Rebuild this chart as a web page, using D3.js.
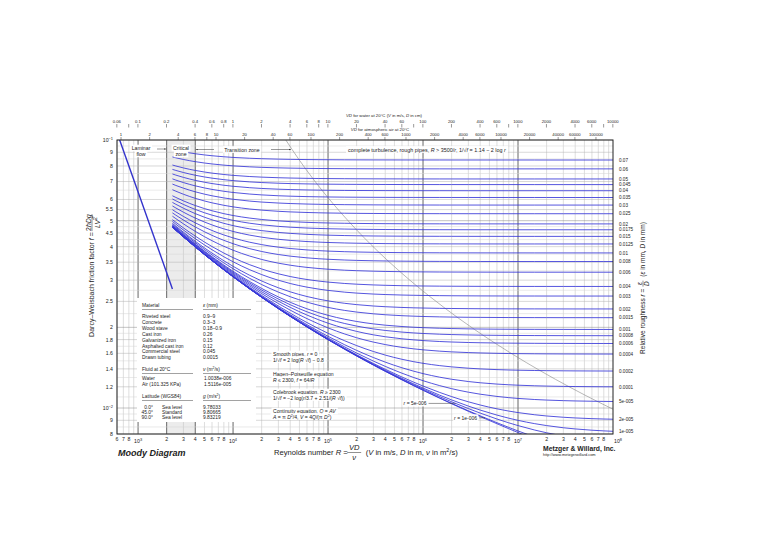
<!DOCTYPE html>
<html>
<head>
<meta charset="utf-8">
<script src="https://cdn.jsdelivr.net/npm/d3@7"></script>
<style>
  body { margin: 0; background: #fff; }
  svg text { font-family: "Liberation Sans", Arial, sans-serif; fill: #222; }
</style>
</head>
<body>
<div id="moody"></div>
<script>
// relative roughness r = eps/D, one Colebrook curve each (labels on the right)
const roughness = [0.07, 0.06, 0.05, 0.045, 0.04, 0.035, 0.03, 0.025, 0.02, 0.0175, 0.015, 0.0125,
  0.01, 0.008, 0.006, 0.004, 0.003, 0.002, 0.0015, 0.001, 0.0008, 0.0006, 0.0004, 0.0002, 0.0001,
  0.00005, 0.00002, 0.00001];
const roughnessLabels = ["0.07", "0.06", "0.05", "0.045", "0.04", "0.035", "0.03", "0.025", "0.02", "0.0175",
  "0.015", "0.0125", "0.01", "0.008", "0.006", "0.004", "0.003", "0.002", "0.0015", "0.001", "0.0008",
  "0.0006", "0.0004", "0.0002", "0.0001", "5e-005", "2e-005", "1e-005"];
// curves that run out through the bottom, two of them labelled inside the plot
const smoothCurves = [0.000005, 0.000001, 0];
const innerLabels = [["5e-006", 0.000005, 2.2e6], ["1e-006", 0.000001, 4.5e6]];
const innerLeaders = [27, 6];

// Reynolds numbers where the curves are evaluated
const reynolds = [2300, 2500, 3000, 3500, 4000, 5000, 6000, 8000, 1e4, 1.5e4, 2e4, 3e4, 4e4, 6e4, 8e4,
  1e5, 1.5e5, 2e5, 3e5, 4e5, 6e5, 8e5, 1e6, 1.5e6, 2e6, 3e6, 4e6, 6e6, 8e6, 1e7, 1.5e7, 2e7, 3e7,
  4e7, 6e7, 8e7, 1e8];
const laminarRange = [600, 2300];

// friction factor axis
const fTicks = [0.1, 0.09, 0.08, 0.07, 0.06, 0.055, 0.05, 0.045, 0.04, 0.035, 0.03, 0.025, 0.02,
  0.018, 0.016, 0.014, 0.012, 0.01, 0.009, 0.008];
const fTickLabels = ["10|-1", "9", "8", "7", "6", "5.5", "5", "4.5", "4", "3.5", "3", "2.5", "2",
  "1.8", "1.6", "1.4", "1.2", "10|-2", "9", "8"];
const fMinor = [0.095, 0.085, 0.075, 0.065, 0.0475, 0.0425, 0.0375, 0.0325, 0.0275, 0.0225, 0.019,
  0.017, 0.015, 0.013, 0.011, 0.0095, 0.0085];

// top scales: VD (V in m/s, D in cm)
const nuWater = 1.0038e-6, nuAir = 1.5116e-5;
const waterVD = [0.06, 0.1, 0.2, 0.4, 0.6, 0.8, 1, 2, 4, 6, 8, 10, 20, 40, 60, 100, 200, 400, 600,
  1000, 2000, 4000, 6000, 10000];
const waterVDMinor = [0.08, 80, 800, 8000];
const airVD = [1, 2, 4, 6, 8, 10, 20, 40, 60, 100, 200, 400, 600, 1000, 2000, 4000, 6000, 10000,
  20000, 40000, 60000, 100000];

// reference table
const materials = [["Riveted steel", "0.9–9"], ["Concrete", "0.3–3"], ["Wood stave", "0.18–0.9"],
  ["Cast iron", "0.26"], ["Galvanized iron", "0.15"], ["Asphalted cast iron", "0.12"],
  ["Commercial steel", "0.045"], ["Drawn tubing", "0.0015"]];
const fluids = [["Water", "1.0038e-006"], ["Air (101.325 KPa)", "1.5116e-005"]];
const gravity = [["0.0°", "Sea level", "9.78033"], ["45.0°", "Standard", "9.80665"],
  ["90.0°", "Sea level", "9.83219"]];

// Colebrook equation as printed on the chart
function colebrook(R, r) {
  var s = 8;
  for (var i = 0; i < 50; i++) s = -2 * Math.log10(r / 3.7 + 2.51 * s / R);
  return 1 / (s * s);
}
function fullyRough(r) { var s = 1.14 - 2 * Math.log10(r); return 1 / (s * s); }

const svg = d3.select("#moody").append("svg").attr("width", 768).attr("height", 543);
const defs = svg.append("defs");

const x = d3.scaleLog().domain([600, 1e8]).range([117, 613]);
const y = d3.scaleLog().domain([0.1, 0.008]).range([140, 434]);
const [x0, x1] = x.range(), [y0, y1] = y.range();

defs.append("clipPath").attr("id", "plotclip").append("rect")
  .attr("x", x0).attr("y", y0).attr("width", x1 - x0).attr("height", y1 - y0);
defs.append("marker").attr("id", "arr").attr("viewBox", "0 0 10 10").attr("refX", 10).attr("refY", 5)
  .attr("markerWidth", 4).attr("markerHeight", 4).attr("orient", "auto-start-reverse")
  .append("path").attr("d", "M0,1L10,5L0,9z").attr("fill", "#333");

// text made of plain / italic / superscript pieces
function rich(parent, px, py, size, parts) {
  var t = parent.append("text").attr("x", px).attr("y", py).attr("font-size", size);
  var up = false;
  parts.forEach(function (p) {
    var s = t.append("tspan").text(p[0]);
    if (p[1] == "i") s.attr("font-style", "italic");
    if (p[1] == "sup") { s.attr("dy", -size * 0.35).attr("font-size", size * 0.7); up = true; }
    else if (up) { s.attr("dy", size * 0.35); up = false; }
  });
  return t;
}
function whiteBehind(t, pad) {
  var b = t.node().getBBox();
  d3.select(t.node().parentNode).insert("rect", () => t.node())
    .attr("x", b.x - pad).attr("y", b.y - 0.3).attr("width", b.width + 2 * pad).attr("height", b.height + 0.6)
    .attr("fill", "#fff");
}

// critical zone shading
svg.append("rect").attr("x", x(2000)).attr("y", y0).attr("width", x(4000) - x(2000)).attr("height", y1 - y0)
  .attr("fill", "#ececec");

// vertical grid
var xGrid = [];
for (var d = 2; d <= 7; d++) for (var k = 1; k <= 9; k++) { var v = k * Math.pow(10, d); if (v >= 600 && v <= 1e8) xGrid.push([v, k, d]); }
const strong = d => d[1] == 1 || d[0] == 2000 || d[0] == 4000;
svg.append("g").selectAll("line").data(xGrid).enter().append("line")
  .attr("x1", d => x(d[0])).attr("x2", d => x(d[0])).attr("y1", y0).attr("y2", y1)
  .attr("stroke", d => strong(d) ? "#555" : "#bdbdbd")
  .attr("stroke-width", d => strong(d) ? 0.9 : 0.5);

// horizontal grid
svg.append("g").selectAll("line").data(fMinor).enter().append("line")
  .attr("x1", x0).attr("x2", x1).attr("y1", d => y(d)).attr("y2", d => y(d))
  .attr("stroke", "#d4d4d4").attr("stroke-width", 0.5);
svg.append("g").selectAll("line").data(fTicks).enter().append("line")
  .attr("x1", x0).attr("x2", x1).attr("y1", d => y(d)).attr("y2", d => y(d))
  .attr("stroke", d => (d == 0.01 || d == 0.05 || d == 0.02) ? "#888" : "#b0b0b0").attr("stroke-width", 0.5);

// curves
const line = d3.line().x(d => x(d[0])).y(d => y(d[1])).curve(d3.curveMonotoneX);
const plot = svg.append("g").attr("clip-path", "url(#plotclip)");

plot.append("path").datum(laminarRange.map(R => [R, 64 / R]))
  .attr("d", d3.line().x(d => x(d[0])).y(d => y(d[1]))).attr("fill", "none")
  .attr("stroke", "#3333cc").attr("stroke-width", 1.4);

// boundary of complete turbulence, R = 3500/r
var boundary = [0.1].concat(roughness).filter(r => r >= 3.5e-5).concat([3.5e-5]);
plot.append("path").datum(boundary.map(r => [3500 / r, fullyRough(r)]))
  .attr("d", line).attr("fill", "none").attr("stroke", "#888").attr("stroke-width", 0.6);

plot.selectAll("path.curve").data(roughness.concat(smoothCurves)).enter().append("path")
  .attr("class", "curve")
  .attr("d", r => line(reynolds.map(R => [R, colebrook(R, r)])))
  .attr("fill", "none").attr("stroke", "#3636d8").attr("stroke-width", 0.85);

// frame
svg.append("rect").attr("x", x0).attr("y", y0).attr("width", x1 - x0).attr("height", y1 - y0)
  .attr("fill", "none").attr("stroke", "#222").attr("stroke-width", 1);

function powText(sel, exp) {
  sel.append("tspan").text("10");
  sel.append("tspan").attr("dy", -2).attr("font-size", "0.75em").text(exp);
}

// left tick labels
svg.append("g").selectAll("text").data(fTicks).enter().append("text")
  .attr("x", x0 - 4).attr("y", d => y(d) + 1.9).attr("text-anchor", "end").attr("font-size", 5.2)
  .each(function (d, i) {
    var lab = fTickLabels[i];
    if (lab.indexOf("|") >= 0) powText(d3.select(this), lab.split("|")[1].replace("-", "−"));
    else d3.select(this).text(lab);
  });

// bottom tick labels
svg.append("g").selectAll("text").data(xGrid.filter(d => d[1] != 9)).enter().append("text")
  .attr("x", d => x(d[0])).attr("y", y1 + 7).attr("text-anchor", "middle").attr("font-size", 5.2)
  .each(function (d) {
    if (d[1] == 1) powText(d3.select(this).attr("dy", 1.5), d[2]);
    else d3.select(this).text(d[1]);
  });
svg.append("text").attr("x", x(1e8) + 1).attr("y", y1 + 8.5).attr("font-size", 5.2).call(s => powText(s, 8));

// right labels at the curve ends
svg.append("g").selectAll("text").data(roughness).enter().append("text")
  .attr("x", x1 + 6).attr("y", r => y(colebrook(1e8, r)) + 1.7).attr("font-size", 4.6)
  .text((r, i) => roughnessLabels[i]);

// top axes
const waterX = v => x(v * 0.01 / nuWater), airX = v => x(v * 0.01 / nuAir);
svg.append("g").selectAll("line").data(waterVD.concat(waterVDMinor)).enter().append("line")
  .attr("x1", waterX).attr("x2", waterX).attr("y1", 124).attr("y2", 127.5)
  .attr("stroke", "#333").attr("stroke-width", 0.5);
svg.append("g").selectAll("text").data(waterVD).enter().append("text")
  .attr("x", waterX).attr("y", 122.8).attr("text-anchor", "middle").attr("font-size", 4.2)
  .text(d => d);
svg.append("g").selectAll("line").data(airVD).enter().append("line")
  .attr("x1", airX).attr("x2", airX).attr("y1", 137).attr("y2", 140)
  .attr("stroke", "#333").attr("stroke-width", 0.5);
svg.append("g").selectAll("text").data(airVD).enter().append("text")
  .attr("x", airX).attr("y", 136).attr("text-anchor", "middle").attr("font-size", 4.2)
  .text(d => d);

rich(svg, 384, 116.5, 4.3, [["VD", "i"], [" for water at 20°C ("], ["V", "i"], [" in m/s, "], ["D", "i"], [" in cm)"]])
  .attr("text-anchor", "middle");
rich(svg, 380, 131.2, 4.3, [["VD", "i"], [" for atmospheric air at 20°C"]]).attr("text-anchor", "middle");

// zone labels
const zl = svg.append("g");
[["Laminar", 141, 150], ["flow", 141, 156], ["Critical", 181, 150], ["zone", 181, 156], ["Transition zone", 242, 151.5]]
  .forEach(function (t) {
    whiteBehind(zl.append("text").attr("x", t[1]).attr("y", t[2]).attr("text-anchor", "middle").attr("font-size", 5.2).text(t[0]), 1.5);
  });
svg.append("line").attr("x1", 157).attr("x2", x(2000) - 0.5).attr("y1", 149).attr("y2", 149)
  .attr("stroke", "#333").attr("stroke-width", 0.5).attr("marker-end", "url(#arr)");
svg.append("line").attr("x1", 214).attr("x2", x(4000) + 0.5).attr("y1", 149.5).attr("y2", 149.5)
  .attr("stroke", "#333").attr("stroke-width", 0.5).attr("marker-end", "url(#arr)");
svg.append("line").attr("x1", 271).attr("x2", x(3500 / 0.086)).attr("y1", 149.5).attr("y2", 149.5)
  .attr("stroke", "#333").attr("stroke-width", 0.5).attr("marker-end", "url(#arr)");
whiteBehind(rich(zl, 348, 151.5, 5.4, [["complete turbulence, rough pipes, "], ["R", "i"], [" > 3500/"], ["r", "i"],
  [",  1/√"], ["f", "i"], [" = 1.14 − 2 log "], ["r", "i"]]), 2);

// labels inside for the smoothest curves
const il = svg.append("g");
innerLabels.forEach(function (l, i) {
  var px = x(l[2]), py = y(colebrook(l[2], l[1])), lead = innerLeaders[i];
  il.append("line").attr("x1", px - lead).attr("x2", px).attr("y1", py).attr("y2", py)
    .attr("stroke", "#333").attr("stroke-width", 0.5);
  var t = rich(il, px - lead - 2, py + 1.8, 5, [["r", "i"], [" = " + l[0]]]).attr("text-anchor", "end");
  whiteBehind(t, 1);
});

// material table
svg.append("rect").attr("x", 137).attr("y", 298).attr("width", 119).attr("height", 124).attr("fill", "#fff");
const tb = svg.append("g");
const fs = 4.9;
function hdr(yy, left, right) {
  tb.append("text").attr("x", 142).attr("y", yy).attr("font-size", fs).text(left);
  rich(tb, 203, yy, fs, right);
  tb.append("line").attr("x1", 142).attr("x2", 193).attr("y1", yy + 3).attr("y2", yy + 3).attr("stroke", "#444").attr("stroke-width", 0.5);
  tb.append("line").attr("x1", 203).attr("x2", 251).attr("y1", yy + 3).attr("y2", yy + 3).attr("stroke", "#444").attr("stroke-width", 0.5);
}
hdr(306.5, "Material", [["ε", "i"], [" (mm)"]]);
materials.forEach(function (m, i) {
  tb.append("text").attr("x", 142).attr("y", 318 + i * 5.9).attr("font-size", fs).text(m[0]);
  tb.append("text").attr("x", 203).attr("y", 318 + i * 5.9).attr("font-size", fs).text(m[1]);
});
hdr(370.5, "Fluid at 20°C", [["ν", "i"], [" (m"], ["2", "sup"], ["/s)"]]);
fluids.forEach(function (f, i) {
  tb.append("text").attr("x", 142).attr("y", 380 + i * 5.9).attr("font-size", fs).text(f[0]);
  tb.append("text").attr("x", 204).attr("y", 380 + i * 5.9).attr("font-size", fs).text(f[1]);
});
hdr(397.5, "Latitude (WGS84)", [["g", "i"], [" (m/s"], ["2", "sup"], [")"]]);
gravity.forEach(function (g, i) {
  tb.append("text").attr("x", 153).attr("y", 408.5 + i * 5.3).attr("text-anchor", "end").attr("font-size", fs).text(g[0]);
  tb.append("text").attr("x", 162).attr("y", 408.5 + i * 5.3).attr("font-size", fs).text(g[1]);
  tb.append("text").attr("x", 203).attr("y", 408.5 + i * 5.3).attr("font-size", fs).text(g[2]);
});

// equations block
const eq = svg.append("g");
[[356, [["Smooth pipes, "], ["r", "i"], [" = 0"]]],
 [361.5, [["1/√"], ["f", "i"], [" = 2 log("], ["R", "i"], [" √"], ["f", "i"], [") − 0.8"]]],
 [376, [["Hagen–Poiseuille equation"]]],
 [381.5, [["R", "i"], [" ≤ 2300,  "], ["f", "i"], [" = 64/"], ["R", "i"]]],
 [394, [["Colebrook equation, "], ["R", "i"], [" ≥ 2300"]]],
 [399.5, [["1/√"], ["f", "i"], [" = −2 log("], ["r", "i"], ["/3.7 + 2.51/("], ["R", "i"], [" √"], ["f", "i"], ["))"]]],
 [413, [["Continuity equation, "], ["Q", "i"], [" = "], ["AV", "i"]]],
 [418.5, [["A", "i"], [" = π "], ["D", "i"], ["2", "sup"], ["/4,  "], ["V", "i"], [" = 4"], ["Q", "i"], ["/(π "], ["D", "i"], ["2", "sup"], [")"]]]
].forEach(function (e) { whiteBehind(rich(eq, 273, e[0], 5.1, e[1]), 1.5); });

// left axis title with the fraction 2hDg / LV^2
const lt = svg.append("g").attr("transform", "translate(94,275) rotate(-90)");
var ltt = rich(lt, 0, 0, 7, [["Darcy–Weisbach friction factor  "], ["f", "i"], [" ="]]);
var lw = ltt.node().getComputedTextLength();
ltt.attr("x", -(lw + 19) / 2);
var fx = -(lw + 19) / 2 + lw + 9.5;
rich(lt, fx, -3.2, 7, [["2"], ["hDg", "i"]]).attr("text-anchor", "middle");
lt.append("line").attr("x1", fx - 8.5).attr("x2", fx + 8.5).attr("y1", -2).attr("y2", -2).attr("stroke", "#222").attr("stroke-width", 0.5);
rich(lt, fx, 5.5, 7, [["LV", "i"], ["2", "sup"]]).attr("text-anchor", "middle");

// right axis title with eps / D
const rt = svg.append("g").attr("transform", "translate(643,288) rotate(-90)");
var r1 = rich(rt, 0, 2, 6.5, [["Relative roughness  "], ["r", "i"], [" ="]]);
var r2 = rich(rt, 0, 2, 6.5, [["("], ["ε", "i"], [" in mm, "], ["D", "i"], [" in mm)"]]);
var w1 = r1.node().getComputedTextLength(), w2 = r2.node().getComputedTextLength();
var start = -(w1 + w2 + 12) / 2;
r1.attr("x", start);
rich(rt, start + w1 + 5, -1.5, 6.5, [["ε", "i"]]).attr("text-anchor", "middle");
rt.append("line").attr("x1", start + w1 + 2).attr("x2", start + w1 + 8).attr("y1", 0).attr("y2", 0).attr("stroke", "#222").attr("stroke-width", 0.5);
rich(rt, start + w1 + 5, 6.3, 6.5, [["D", "i"]]).attr("text-anchor", "middle");
r2.attr("x", start + w1 + 12);

// bottom titles
svg.append("text").attr("x", 118).attr("y", 455.5).attr("font-size", 9).attr("font-weight", "bold")
  .attr("font-style", "italic").text("Moody Diagram");
var b1 = rich(svg, 274, 454.5, 7.6, [["Reynolds number  "], ["R", "i"], [" = "]]);
var bw = b1.node().getComputedTextLength();
var bx = 274 + bw + 6.5;
rich(svg, bx, 450.3, 7.6, [["VD", "i"]]).attr("text-anchor", "middle");
svg.append("line").attr("x1", bx - 7).attr("x2", bx + 7).attr("y1", 452.5).attr("y2", 452.5).attr("stroke", "#222").attr("stroke-width", 0.5);
rich(svg, bx, 459.8, 7.6, [["ν", "i"]]).attr("text-anchor", "middle");
rich(svg, bx + 11.5, 454.5, 7.6, [["("], ["V", "i"], [" in m/s, "], ["D", "i"], [" in m, "], ["ν", "i"], [" in m"], ["2", "sup"], ["/s)"]]);

svg.append("text").attr("x", 543).attr("y", 450.5).attr("font-size", 6.8).attr("font-weight", "bold").text("Metzger & Willard, Inc.");
svg.append("text").attr("x", 543).attr("y", 456).attr("font-size", 3.9).text("http://www.metzgerwillard.com");
</script>
</body>
</html>
